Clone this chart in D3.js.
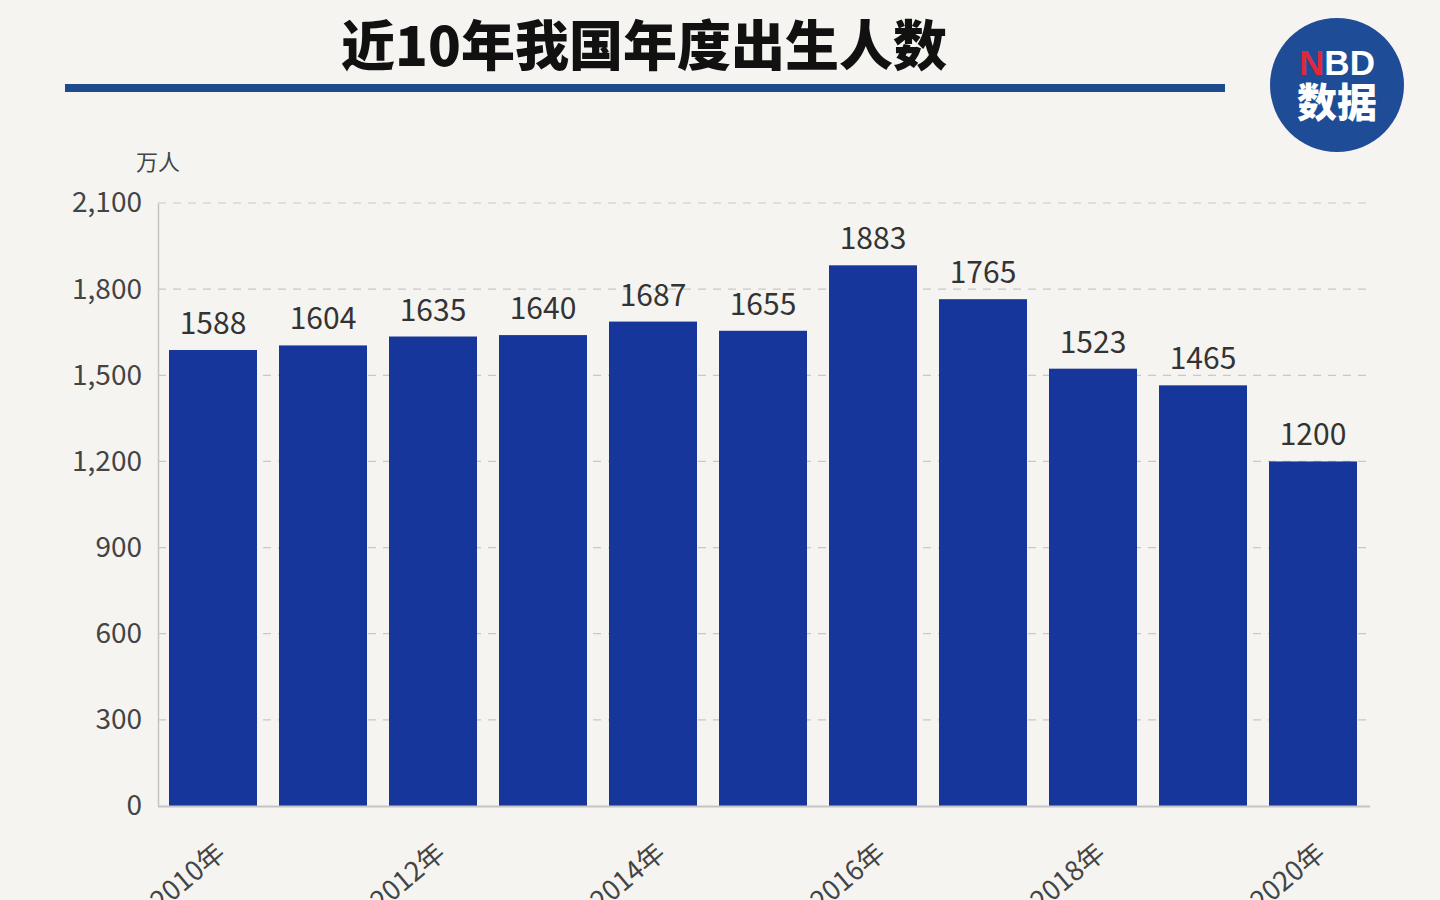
<!DOCTYPE html>
<html><head><meta charset="utf-8">
<script src="https://cdn.jsdelivr.net/npm/d3@7/dist/d3.min.js"></script>
<style>
html,body{margin:0;padding:0;background:#f5f4f0;}
svg{display:block;}
</style></head>
<body>
<svg id="chart" width="1440" height="900"></svg>
<script>
const years = ["2010年","2011年","2012年","2013年","2014年","2015年","2016年","2017年","2018年","2019年","2020年"];
const births = [1588,1604,1635,1640,1687,1655,1883,1765,1523,1465,1200];
const yTicks = [0,300,600,900,1200,1500,1800,2100];
const xTickLabels = ["2010年","2012年","2014年","2016年","2018年","2020年"];
const title = "近10年我国年度出生人数";
const unit = "万人";

(function(){
const svg = d3.select("#chart");
const font = "'Noto Sans CJK SC','Noto Sans',sans-serif";
svg.append("rect").attr("width",1440).attr("height",900).attr("fill","#f5f4f0");

const pL = 158, pR = 1368, pT = 203, pB = 806;
const x = d3.scaleBand().domain(years).range([pL,pR]).paddingInner(0.2).paddingOuter(0.1);
const y = d3.scaleLinear().domain([0,2100]).range([pB,pT]);

// title
svg.append("text").attr("x",644).attr("y",66).attr("text-anchor","middle")
  .attr("font-family",font).attr("font-weight",900).attr("font-size",54).attr("fill","#111").text(title);
svg.append("rect").attr("x",65).attr("y",84).attr("width",1160).attr("height",8).attr("fill","#1d4a8c");

// logo
const lg = svg.append("g").attr("transform","translate(1337,85)");
lg.append("circle").attr("r",67).attr("fill","#1f4c96");
const t1 = lg.append("text").attr("y",-10).attr("text-anchor","middle").attr("font-family","'Liberation Sans',Arial,sans-serif")
  .attr("font-weight",700).attr("font-size",35);
t1.append("tspan").attr("fill","#e0283c").text("N");
t1.append("tspan").attr("fill","#fff").text("BD");
lg.append("text").attr("y",32).attr("text-anchor","middle").attr("font-family",font).attr("font-weight",900)
  .attr("font-size",40).attr("fill","#fff").text("数据");

// gridlines
svg.append("g").selectAll("line").data(yTicks.filter(d=>d>0)).join("line")
  .attr("x1",pL).attr("x2",pR).attr("y1",d=>y(d)).attr("y2",d=>y(d))
  .attr("stroke","#c8c8c8").attr("stroke-width",1.2).attr("stroke-dasharray","8,7");

// y axis
const yAxis = svg.append("g").attr("transform",`translate(${pL},0)`)
  .call(d3.axisLeft(y).tickValues(yTicks).tickFormat(d3.format(",")).tickSize(0).tickPadding(16));
yAxis.select(".domain").attr("stroke","#c4c4c4").attr("stroke-width",1.5);
yAxis.selectAll("text").attr("font-family",font).attr("font-size",28).attr("fill","#444");

svg.append("text").attr("x",158).attr("y",170).attr("text-anchor","middle").attr("font-family",font)
  .attr("font-size",22).attr("fill","#444").text(unit);

// bars
svg.append("g").selectAll("rect").data(births).join("rect")
  .attr("x",(d,i)=>x(years[i])).attr("width",x.bandwidth())
  .attr("y",d=>y(d)).attr("height",d=>y(0)-y(d)).attr("fill","#17369b");

svg.append("g").selectAll("text").data(births).join("text")
  .attr("x",(d,i)=>x(years[i])+x.bandwidth()/2).attr("y",d=>y(d)-16)
  .attr("text-anchor","middle").attr("font-family",font).attr("font-size",30).attr("fill","#333").text(d=>d);

// x axis
const xAxis = svg.append("g").attr("transform",`translate(0,${pB})`)
  .call(d3.axisBottom(x).tickValues(xTickLabels).tickSize(0).tickPadding(0));
xAxis.select(".domain").attr("stroke","#c4c4c4").attr("stroke-width",2).attr("d",`M${pL},0.5H${pR+2}`);
xAxis.selectAll("text").attr("font-family",font).attr("font-size",27).attr("fill","#444")
  .attr("text-anchor","end").attr("dy","0").attr("y",0)
  .attr("transform","translate(14,50) rotate(-40)");
})();
</script>
</body></html>
